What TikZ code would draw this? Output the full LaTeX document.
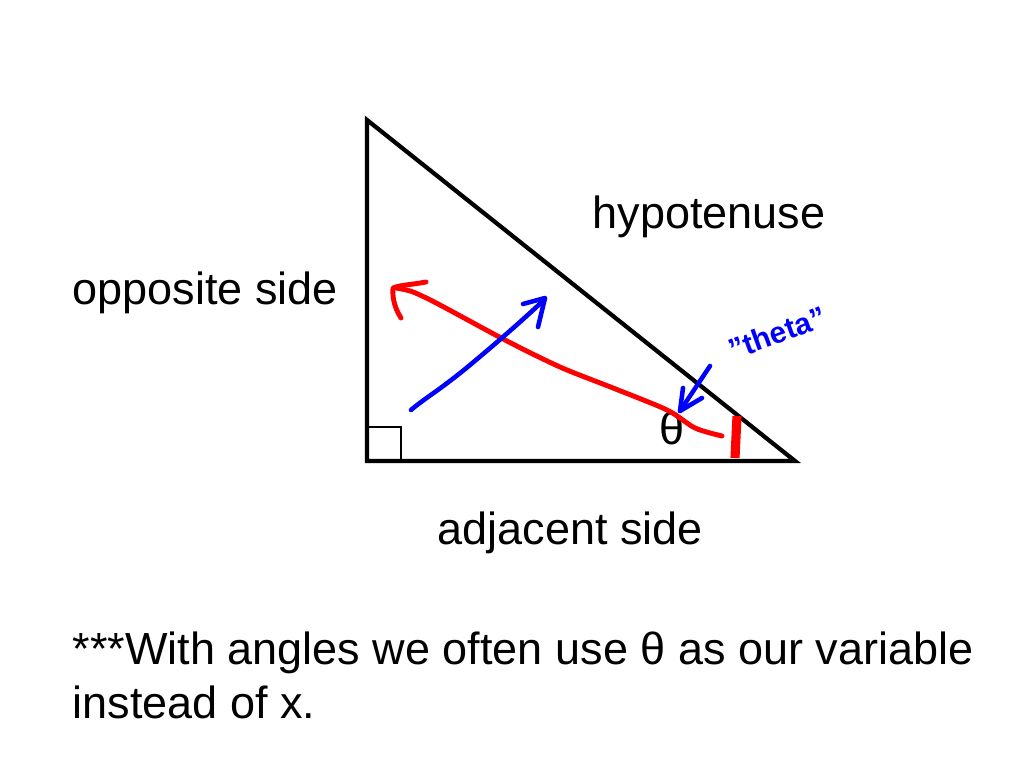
\documentclass[tikz,border=0pt]{standalone}
\usepackage{fontspec}
\setmainfont{Liberation Sans}
\usetikzlibrary{positioning}

\begin{document}
\begin{tikzpicture}[x=0.01cm, y=-0.01cm,
    every node/.style={font=\fontsize{12.8}{15.6}\selectfont, inner sep=0pt},
    redink/.style={red, line width=1.4pt, line cap=round, line join=round},
    blueink/.style={blue, line width=1.3pt, line cap=round, line join=round}]
    \useasboundingbox (0,0) rectangle (1024,768);
    % triangle
    \coordinate (top) at (367,120);
    \coordinate (corner) at (367,461);
    \coordinate (tip) at (795,461);
    \draw[line width=1.2pt, line join=miter] (top) -- (corner) -- (tip) -- cycle;
    \draw[line width=0.4pt] (corner) ++(0,-34) -- ++(34,0) -- ++(0,34);
    % labels
    \node[anchor=base west] (hyp) at (592,229) {hypotenuse};
    \node[anchor=base west] (opp) at (72,305) {opposite side};
    \node[anchor=base west] (adj) at (437,545) {adjacent side};
    \node (theta) at (672,428) {θ};
    \node[anchor=base west, align=left] (note) at (72,719) {***With angles we often use θ as our variable\\instead of x.};
    % red ink
    \draw[redink] plot[smooth, tension=0.5] coordinates {(722,436) (695,428) (667,410)
        (613,388) (560,367) (505,340) (440,305) (413,292) (396,288)};
    \draw[redink] (426,282) .. controls (410,285) and (400,285) .. (393,288)
        .. controls (392,300) and (396,310) .. (401,318);
    \draw[red, line width=2.6pt] (737,416) -- (735,458);
    % blue ink
    \draw[blueink] (411,410) .. controls (425,398) and (440,390) .. (470,365)
        .. controls (500,340) and (525,318) .. (545,299);
    \draw[blueink] (523,304) -- (545,298) -- (538,327);
    \draw[blueink] (710,366) -- (680,411);
    \draw[blueink] (683,388) -- (680,411) -- (702,398);
    \node[blue, rotate=20, font=\fontsize{8.5}{9}\bfseries] (say) at (777,333) {"theta"};
\end{tikzpicture}
\end{document}
